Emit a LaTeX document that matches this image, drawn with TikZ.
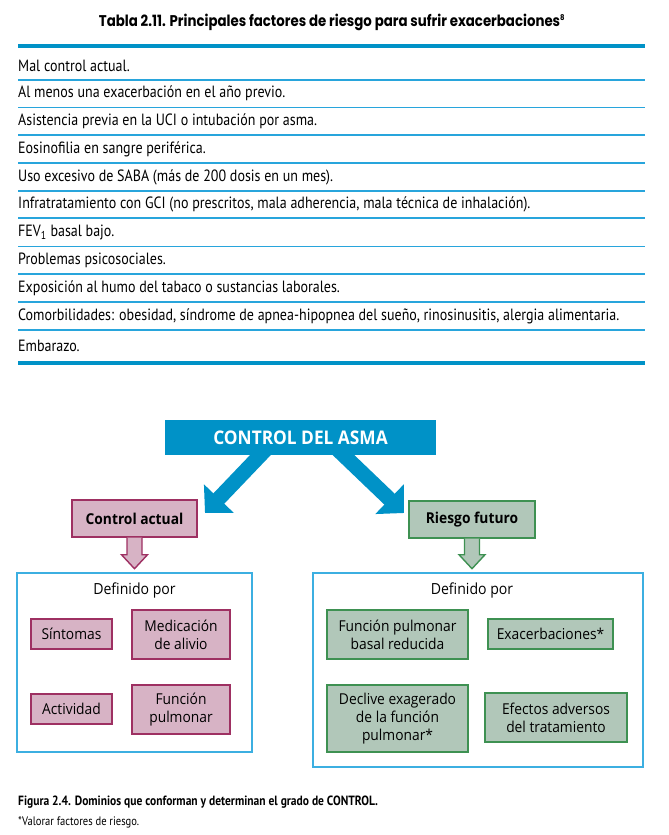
\documentclass[tikz,border=0pt]{standalone}
\usepackage{fontspec}
\setmainfont{PT Sans}
\newfontfamily\tabfont[FakeStretch=0.86]{PT Sans}
\newfontfamily\titlefont[FakeStretch=0.86]{Poppins}
\newfontfamily\diafont[FakeStretch=0.92]{Open Sans}
\usetikzlibrary{arrows.meta,calc}
\definecolor{tblue}{RGB}{0,146,199}
\definecolor{lblue}{RGB}{40,165,220}
\definecolor{obox}{RGB}{60,175,225}
\definecolor{pinkf}{RGB}{215,179,197}
\definecolor{pinkd}{RGB}{158,48,98}
\definecolor{greenf}{RGB}{177,199,185}
\definecolor{greend}{RGB}{62,145,82}
\begin{document}
\begin{tikzpicture}[x=1pt,y=-1pt,
  rowtxt/.style={anchor=west,inner sep=0pt,font=\tabfont\fontsize{16.3}{19}\selectfont},
  thinrule/.style={draw=lblue,line width=1.3pt},
  thickrule/.style={draw=tblue,line width=4pt},
  outerbox/.style={draw=obox,line width=1.4pt,fill=white,inner sep=0pt},
  pinkbox/.style={draw=pinkd,fill=pinkf,line width=1.4pt,inner sep=0pt,align=center,font=\diafont\fontsize{15}{18}\selectfont},
  greenbox/.style={draw=greend,fill=greenf,line width=1.4pt,inner sep=0pt,align=center,font=\diafont\fontsize{15}{18}\selectfont},
  pinkarrow/.style={draw=pinkd,fill=pinkf,line width=1.4pt,line join=miter},
  greenarrow/.style={draw=greend,fill=greenf,line width=1.4pt,line join=miter},
  bigarrow/.style={draw=tblue,line width=15pt,-{Triangle[length=20pt,width=40pt]}},
  deftxt/.style={inner sep=0pt,font=\diafont\fontsize{15.3}{18}\selectfont}
]
\useasboundingbox (0,0) rectangle (669,835);
% ---------- table ----------
\node[inner sep=0pt,font=\titlefont\bfseries\fontsize{15.5}{18}\selectfont] (title) at (332,22) {Tabla 2.11. Principales factores de riesgo para sufrir exacerbaciones\textsuperscript{\fontsize{8}{8}\selectfont 8}};
\draw[thickrule] (18,45.5) -- (645,45.5);
\foreach \yy in {80,107.5,135,163,191,218,246.5,274,302,330}{
  \draw[thinrule] (18,\yy) -- (645,\yy);
}
\draw[thickrule] (18,363) -- (645,363);
\node[rowtxt] (r1) at (18,66) {Mal control actual.};
\node[rowtxt] (r2) at (18,93.5) {Al menos una exacerbación en el año previo.};
\node[rowtxt] (r3) at (18,121) {Asistencia previa en la UCI o intubación por asma.};
\node[rowtxt] (r4) at (18,149) {Eosinofilia en sangre periférica.};
\node[rowtxt] (r5) at (18,177) {Uso excesivo de SABA (más de 200 dosis en un mes).};
\node[rowtxt] (r6) at (18,204.5) {Infratratamiento con GCI (no prescritos, mala adherencia, mala técnica de inhalación).};
\node[rowtxt] (r7) at (18,232.5) {FEV\textsubscript{1} basal bajo.};
\node[rowtxt] (r8) at (18,260) {Problemas psicosociales.};
\node[rowtxt] (r9) at (18,288) {Exposición al humo del tabaco o sustancias laborales.};
\node[rowtxt] (r10) at (18,316) {Comorbilidades: obesidad, síndrome de apnea-hipopnea del sueño, rinosinusitis, alergia alimentaria.};
\node[rowtxt] (r11) at (18,346) {Embarazo.};
% ---------- diagram ----------
\coordinate (ls) at (270,445);
\coordinate (lt) at (205,513);
\coordinate (rs) at (333,445);
\coordinate (rt) at (404,513);
\draw[bigarrow] (ls) -- (lt);
\draw[bigarrow] (rs) -- (rt);
\node[fill=tblue,minimum width=271pt,minimum height=35pt,inner sep=0pt,text=white,font=\diafont\bfseries\fontsize{18.8}{22}\selectfont] (asma) at (300.5,437.5) {CONTROL DEL ASMA};

\node[outerbox,minimum width=235pt,minimum height=179pt] (lbox) at (134.5,662.5) {};
\node[outerbox,minimum width=330pt,minimum height=194pt] (rbox) at (478,670) {};

\node[pinkbox,minimum width=125pt,minimum height=37pt,font=\diafont\bfseries\fontsize{15}{18}\selectfont] (ca) at (134.5,518.5) {Control actual};
\node[greenbox,minimum width=126pt,minimum height=37pt,font=\diafont\bfseries\fontsize{15}{18}\selectfont] (rf) at (472,519.5) {Riesgo futuro};

\draw[pinkarrow] ([xshift=-7.5pt]ca.south) -- ++(0,17) -- ++(-5.5,0) -- ++(13,14) -- ++(13,-14) -- ++(-5.5,0) -- ++(0,-17);
\draw[greenarrow] ([xshift=-7.5pt]rf.south) -- ++(0,16) -- ++(-5.5,0) -- ++(13,14) -- ++(13,-14) -- ++(-5.5,0) -- ++(0,-16);

\node[deftxt] (ldef) at (134.5,590) {Definido por};
\node[deftxt] (rdef) at (472,590) {Definido por};

\node[pinkbox,minimum width=81pt,minimum height=30pt] (sint) at (71.5,634) {Síntomas};
\node[pinkbox,minimum width=98pt,minimum height=49pt] (med) at (181,634.5) {Medicación\\de alivio};
\node[pinkbox,minimum width=81pt,minimum height=30pt] (act) at (71.5,709) {Actividad};
\node[pinkbox,minimum width=98pt,minimum height=49pt] (fun) at (181,709.5) {Función\\pulmonar};

\node[greenbox,minimum width=141pt,minimum height=49pt] (fpb) at (397.5,634.5) {Función pulmonar\\basal reducida};
\node[greenbox,minimum width=125pt,minimum height=30pt] (exa) at (550.5,634) {Exacerbaciones*};
\node[greenbox,minimum width=141pt,minimum height=67pt] (dec) at (397.5,718.5) {Declive exagerado\\de la función\\pulmonar*};
\node[greenbox,minimum width=142pt,minimum height=49pt] (efe) at (556,717.5) {Efectos adversos\\del tratamiento};
% ---------- caption ----------
\node[anchor=west,inner sep=0pt,font=\tabfont\bfseries\fontsize{13.4}{16}\selectfont] (cap) at (18,802) {Figura 2.4. Dominios que conforman y determinan el grado de CONTROL.};
\node[anchor=west,inner sep=0pt,font=\tabfont\fontsize{12.3}{14}\selectfont] (note) at (18,822) {*Valorar factores de riesgo.};
\end{tikzpicture}
\end{document}
